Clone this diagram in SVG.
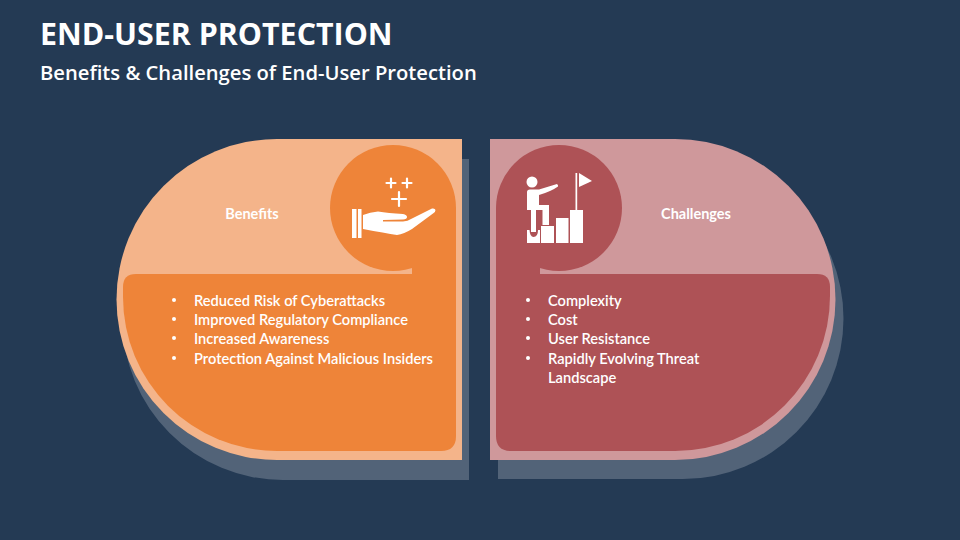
<svg xmlns="http://www.w3.org/2000/svg" width="960" height="540" viewBox="0 0 960 540">
<style>
.w{fill:#fff}
.shadow{fill:#526378}
.title{font:700 30.400px "Open Sans",sans-serif;fill:#fff}
.sub{font:600 20.200px "Open Sans",sans-serif;fill:#fff}
.head{font:700 14.500px "Lato",sans-serif;fill:#fff}
.li{font:600 14.650px "Lato",sans-serif;fill:#fff}
.spark{stroke:#fff;stroke-width:2.200;stroke-linecap:round;fill:none}
</style>
<rect width="960" height="540" fill="#243a54"/>
<text class="title" x="40" y="45">END-USER PROTECTION</text>
<text class="sub" x="40" y="80">Benefits &amp; Challenges of End-User Protection</text>
<g id="benefits">
<path class="shadow" d="M469 159H283A160.500 160.500 0 0 0 283 480H469Z"/>
<path fill="#f4b48a" d="M462 139H277A160.500 160.500 0 0 0 277 460H462Z"/>
<path fill="#ee8439" d="M136 274H456V436Q456 451 441 451H277A154 154 0 0 1 123 297V287Q123 274 136 274Z"/>
<circle cx="393" cy="208" r="63" fill="#ee8439"/>
<rect x="412" y="208" width="44" height="67" fill="#ee8439"/>
<g id="hand-icon">
<rect class="w" x="352" y="209" width="4.500" height="29"/>
<rect class="w" x="358" y="209" width="3.500" height="29"/>
<path class="w" d="M363 215Q370 212 378 211.500Q388 213 403 214Q407 215 407 217Q407 219 403 219.500L383 220V221.500L403 221.500Q408 221 411 219L432 208.500Q435 208 435.500 210Q435.500 212 433 213.500L412 229Q404 234 397 235Q385 233 363 229Z"/>
<path class="spark" d="M391 178.500V187.500M386.500 183H395.500M407 178.500V187.500M402.500 183H411.500M399 192V206M392 199H406"/>
</g>
<text class="head" x="252" y="219" text-anchor="middle">Benefits</text>
<g class="li">
<text x="194" y="306">Reduced Risk of Cyberattacks</text>
<text x="194" y="325">Improved Regulatory Compliance</text>
<text x="194" y="344">Increased Awareness</text>
<text x="194" y="364">Protection Against Malicious Insiders</text>
</g>
<circle class="w" cx="174" cy="300" r="2"/><circle class="w" cx="174" cy="319" r="2"/><circle class="w" cx="174" cy="338" r="2"/><circle class="w" cx="174" cy="358" r="2"/>
</g>
<g id="challenges">
<path class="shadow" d="M498 158H683A160.500 160.500 0 0 1 683 479H498Z"/>
<path fill="#cf989b" d="M490 139H675A160.500 160.500 0 0 1 675 460H490Z"/>
<path fill="#ae5256" d="M496 274H817Q830 274 830 287V296A155 155 0 0 1 675 451H511Q496 451 496 436Z"/>
<circle cx="559" cy="208" r="63" fill="#ae5256"/>
<rect x="496" y="208" width="44" height="67" fill="#ae5256"/>
<g id="climb-icon">
<circle class="w" cx="532" cy="182" r="5.500"/>
<path class="w" d="M527 192Q527 189.500 530 189.500H539L557 184Q558.500 185 558 186.500Q551 191.500 539 195V205H549V225H542.500V210H527Z"/>
<path class="w" d="M531 210H536V232H531Z"/>
<path class="w" d="M527 230H529.500Q530 237 533.500 237Q538 237 538 230H540V243H527Z"/>
<rect class="w" x="541" y="226" width="13" height="17"/>
<rect class="w" x="556" y="218" width="12.500" height="25"/>
<rect class="w" x="570" y="210" width="13" height="33"/>
<rect class="w" x="575.500" y="173" width="1.700" height="37"/>
<path class="w" d="M579 173L592 181L579 187Z"/>
</g>
<text class="head" x="696" y="219" text-anchor="middle">Challenges</text>
<g class="li">
<text x="548" y="306">Complexity</text>
<text x="548" y="325">Cost</text>
<text x="548" y="344">User Resistance</text>
<text x="548" y="364">Rapidly Evolving Threat</text>
<text x="548" y="383">Landscape</text>
</g>
<circle class="w" cx="528" cy="300" r="2"/><circle class="w" cx="528" cy="319" r="2"/><circle class="w" cx="528" cy="338" r="2"/><circle class="w" cx="528" cy="358" r="2"/>
</g>
</svg>
